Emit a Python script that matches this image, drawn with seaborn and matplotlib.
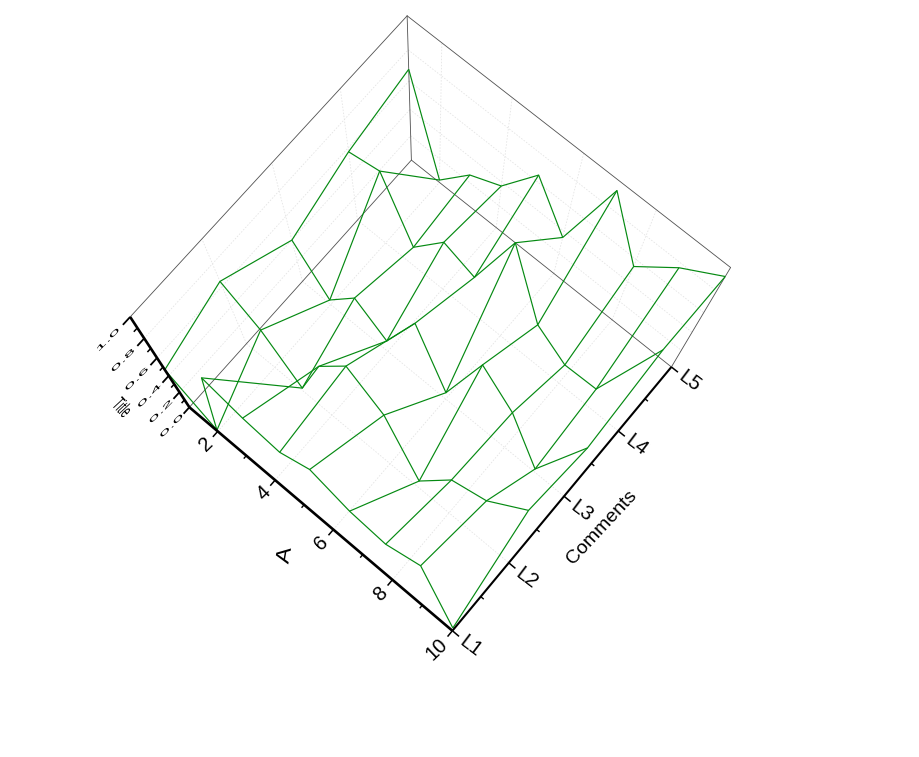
import numpy as np
import matplotlib
matplotlib.use('Agg')
import matplotlib.pyplot as plt
import matplotlib.patheffects as pe
from matplotlib.transforms import Affine2D
from mpl_toolkits.mplot3d import proj3d
import seaborn as sns

# ---------- data ----------
A_values = [1, 2, 3, 4, 5, 6, 7, 8, 9, 10]
L_positions = [1, 2, 3, 4, 5]
L_labels = ['L1', 'L2', 'L3', 'L4', 'L5']
z_L1 = [0.469, 0.019, 0.987, 0.872, 0.814, 0.981, 0.819, 0.765, 0.932, 0.093]
z_L2 = [0.646, 0.427, 0.040, 0.605, 0.904, 0.679, 0.122, 0.558, 0.672, 0.985]
z_L3 = [0.398, 0.049, 0.321, 0.123, 0.585, 0.084, 0.718, 0.482, 0.044, 0.741]
z_L4 = [0.572, 0.618, 0.182, 0.452, 0.360, 0.894, 0.390, 0.224, 0.234, 0.965]
z_L5 = [0.677, 0.021, 0.261, 0.368, 0.652, 0.346, 0.935, 0.539, 0.763, 0.926]
A_major = [2, 4, 6, 8, 10]
A_minor = [1, 3, 5, 7, 9]
L_minor = [1.5, 2.5, 3.5, 4.5]
z_major = [0.0, 0.2, 0.4, 0.6, 0.8, 1.0]
z_minor = [0.1, 0.3, 0.5, 0.7, 0.9]

sns.set_theme(style='white')
plt.rcParams['font.family'] = ['Liberation Sans', 'DejaVu Sans']


class Squash(pe.AbstractPathEffect):
    """Perspective flattening of a label about its own centre."""
    def __init__(self, sx, sy):
        super().__init__()
        self.sx, self.sy = sx, sy

    def draw_path(self, renderer, gc, tpath, affine, rgbFace=None):
        v = tpath.vertices
        cx, cy = (v[:, 0].min() + v[:, 0].max()) / 2, (v[:, 1].min() + v[:, 1].max()) / 2
        a = Affine2D().translate(-cx, -cy).scale(self.sx, self.sy).translate(cx, cy) + affine
        renderer.draw_path(gc, tpath, a, rgbFace)


W, H = 920, 757
fig = plt.figure(figsize=(W / 100, H / 100), dpi=100, facecolor='white')
S, x0, y0 = 775.2, 33.27, 14.15
ax = fig.add_axes([x0 / W, y0 / H, S / W, S / H], projection='3d', computed_zorder=False)
ax.set_xlim(1, 10, view_margin=0)
ax.set_ylim(1, 5, view_margin=0)
ax.set_zlim(0, 1, view_margin=0)
focal = 0.4
ax.set_proj_type('persp', focal_length=focal)
ax.view_init(75.6565, -50.1272, -0.2497)
box = np.array([2.2632, 2.2654, 2.2587]) * focal
ax.set_box_aspect(box, zoom=np.linalg.norm(box) / (1.8294640721620434 * 25 / 24))
ax.set_axis_off()
M = ax.get_proj()


def label(x, y, z, s, rotation, fontsize):
    """Place a rotated label at a 3D data position."""
    px, py, _ = proj3d.proj_transform(x, y, z, M)
    return ax.text2D(px, py, s, transform=ax.transData, rotation=rotation, fontsize=fontsize,
                     ha='center', va='center', color='black', clip_on=False)


# ---------- faint grid ----------
grid_kw = dict(color='#e2e2e2', lw=0.55, ls=(0, (2, 2)), zorder=1, clip_on=False)
for a in A_major[:-1]:
    ax.plot([a, a], [1, 5], [0, 0], **grid_kw)
    ax.plot([a, a], [5, 5], [0, 1], **grid_kw)
for l in L_positions[1:-1]:
    ax.plot([1, 10], [l, l], [0, 0], **grid_kw)
    ax.plot([1, 1], [l, l], [0, 1], **grid_kw)
for z in z_major[1:-1]:
    ax.plot([1, 1], [1, 5], [z, z], **grid_kw)
    ax.plot([1, 10], [5, 5], [z, z], **grid_kw)

# ---------- box frame ----------
frame_kw = dict(color='#505050', lw=0.6, zorder=2, clip_on=False)
ax.plot([1, 1], [1, 5], [1, 1], **frame_kw)
ax.plot([1, 10], [5, 5], [1, 1], **frame_kw)
ax.plot([10, 10], [5, 5], [0, 1], **frame_kw)
ax.plot([1, 1], [5, 5], [0, 1], **frame_kw)
ax.plot([1, 1], [1, 5], [0, 0], **frame_kw)
ax.plot([1, 10], [5, 5], [0, 0], **frame_kw)

# ---------- surface wireframe ----------
X, Y = np.meshgrid(A_values, L_positions)
Z = np.array([z_L1, z_L2, z_L3, z_L4, z_L5])
wf = ax.plot_wireframe(X, Y, Z, color='#058a12', linewidth=0.85, zorder=3)
wf.set_clip_on(False)

# ---------- axes and ticks ----------
ax_kw = dict(color='black', solid_capstyle='butt', zorder=4, clip_on=False)
ax.plot([1, 10], [1, 1], [0, 0], lw=1.9, **ax_kw)
ax.plot([10, 10], [1, 5], [0, 0], lw=1.5, **ax_kw)
ax.plot([1, 1], [1, 1], [0, 1], lw=1.9, **ax_kw)
for a in A_major:
    ax.plot([a, a], [1, 0.915], [0, 0], lw=1.1, **ax_kw)
for a in A_minor[1:]:
    ax.plot([a, a], [1, 0.955], [0, 0], lw=1.0, **ax_kw)
for l in L_positions:
    ax.plot([10, 10.22], [l, l], [0, 0], lw=1.1, **ax_kw)
for l in L_minor:
    ax.plot([10, 10.1], [l, l], [0, 0], lw=1.0, **ax_kw)
for z in z_major:
    ax.plot([1, 1], [1, 0.9], [z, z], lw=1.3, **ax_kw)
for z in z_minor:
    ax.plot([1, 1], [1, 0.95], [z, z], lw=1.1, **ax_kw)

# ---------- text ----------
for a in A_major:
    off = 0.73 if a == 10 else 0.795
    label(a, off, 0, str(a), 44, 14.5)
for l, lab in zip(L_positions, L_labels):
    label(10.6, l, 0, lab, -37, 14.5)
label(11.25, 3, 0, 'Comments', 47, 14)
label(5.49, 0.42, 0, 'A', 80, 16).set_path_effects([Squash(1.1, 0.9)])
for z in z_major:
    label(1, 0.70, z, f'{z:.1f}', 45, 12).set_path_effects([Squash(1.35, 0.38)])
label(0.68, 0.41, 0.4, 'Title', -47, 15).set_path_effects([Squash(0.45, 1.0)])

fig.savefig('out.png', dpi=100, facecolor='white')
